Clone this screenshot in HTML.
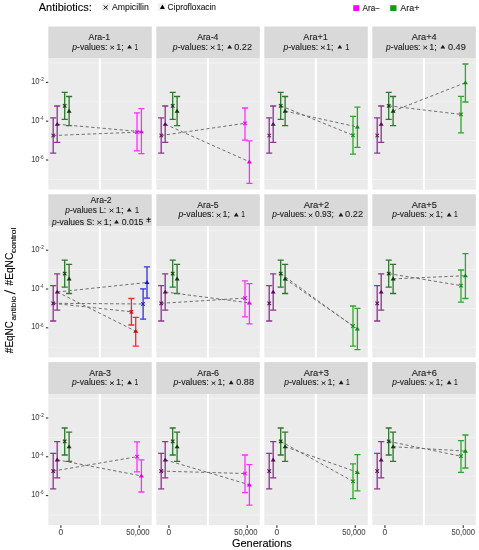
<!DOCTYPE html><html><head><meta charset="utf-8"><style>html,body{margin:0;padding:0;background:#fff;overflow:hidden;}svg{display:block;will-change:transform}</style></head><body>
<svg width="479" height="550" viewBox="0 0 479 550" font-family='"Liberation Sans", sans-serif'>
<rect width="479" height="550" fill="#fff"/>
<text x="38.78" y="11.30" font-size="10.3" fill="#000" stroke="#000" stroke-width="0.1" textLength="53.02" lengthAdjust="spacingAndGlyphs">Antibiotics:</text>
<rect x="101.6" y="3" width="8.4" height="8.1" fill="#f2f2f2"/>
<path d="M103.7 5.5L107.7 9.3M103.7 9.3L107.7 5.5" stroke="#000" stroke-width="1.0"/>
<text x="112.08" y="9.70" font-size="8.7" fill="#1a1a1a" stroke="#1a1a1a" stroke-width="0.1" textLength="36.68" lengthAdjust="spacingAndGlyphs">Ampicillin</text>
<rect x="157.6" y="3" width="8.6" height="8.1" fill="#f2f2f2"/>
<path d="M162.4 4.5L164.9 8.9L159.9 8.9Z" fill="#000"/>
<text x="167.57" y="9.70" font-size="8.7" fill="#1a1a1a" stroke="#1a1a1a" stroke-width="0.1" textLength="48.47" lengthAdjust="spacingAndGlyphs">Ciprofloxacin</text>
<rect x="353.2" y="5.2" width="6" height="5.8" fill="#ff00ff"/>
<text x="362.48" y="11.00" font-size="8.2" fill="#1a1a1a" stroke="#1a1a1a" stroke-width="0.1" textLength="17.52" lengthAdjust="spacingAndGlyphs">Ara−</text>
<rect x="390.2" y="5.2" width="6.3" height="5.8" fill="#149a14"/>
<text x="400.38" y="11.00" font-size="8.2" fill="#1a1a1a" stroke="#1a1a1a" stroke-width="0.1" textLength="19.26" lengthAdjust="spacingAndGlyphs">Ara+</text>
<g transform="translate(13.1 0) rotate(-90)">
<text x="-353.14" y="0.00" font-size="10.5" fill="#000" stroke="#000" stroke-width="0.1" textLength="32.02" lengthAdjust="spacingAndGlyphs">#EqNC</text>
<text x="-320.55" y="2.90" font-size="7.3" fill="#000" stroke="#000" stroke-width="0.1" textLength="24.40" lengthAdjust="spacingAndGlyphs">antibio</text>
<text x="-285.44" y="0.00" font-size="10.5" fill="#000" stroke="#000" stroke-width="0.1" textLength="32.73" lengthAdjust="spacingAndGlyphs">#EqNC</text>
<text x="-253.06" y="2.90" font-size="7.3" fill="#000" stroke="#000" stroke-width="0.1" textLength="25.53" lengthAdjust="spacingAndGlyphs">control</text>
</g>
<path d="M15.4 293.9L4.3 290.2" stroke="#000" stroke-width="1.05"/>
<text x="231.95" y="546.90" font-size="10.2" fill="#000" stroke="#000" stroke-width="0.1" textLength="59.85" lengthAdjust="spacingAndGlyphs">Generations</text>
<path d="M45.9 82.40H48.6" stroke="#333" stroke-width="1.1"/>
<text x="31.18" y="84.00" font-size="8.4" fill="#4d4d4d" stroke="#4d4d4d" stroke-width="0.1" textLength="8.37" lengthAdjust="spacingAndGlyphs">10</text>
<text x="39.59" y="81.20" font-size="5.4" fill="#5a5a5a" stroke="#5a5a5a" stroke-width="0.1" textLength="4.14" lengthAdjust="spacingAndGlyphs">-2</text>
<path d="M45.9 121.20H48.6" stroke="#333" stroke-width="1.1"/>
<text x="31.18" y="122.80" font-size="8.4" fill="#4d4d4d" stroke="#4d4d4d" stroke-width="0.1" textLength="8.37" lengthAdjust="spacingAndGlyphs">10</text>
<text x="39.60" y="120.00" font-size="5.4" fill="#5a5a5a" stroke="#5a5a5a" stroke-width="0.1" textLength="4.03" lengthAdjust="spacingAndGlyphs">-4</text>
<path d="M45.9 160.00H48.6" stroke="#333" stroke-width="1.1"/>
<text x="31.18" y="161.60" font-size="8.4" fill="#4d4d4d" stroke="#4d4d4d" stroke-width="0.1" textLength="8.37" lengthAdjust="spacingAndGlyphs">10</text>
<text x="39.59" y="158.80" font-size="5.4" fill="#5a5a5a" stroke="#5a5a5a" stroke-width="0.1" textLength="4.11" lengthAdjust="spacingAndGlyphs">-6</text>
<rect x="48.30" y="26.50" width="103.5" height="31.9" fill="#d9d9d9"/>
<rect x="48.30" y="58.40" width="103.5" height="131.2" fill="#ebebeb"/>
<path d="M48.30 63.00H151.80" stroke="#f4f4f4" stroke-width="0.9"/>
<path d="M48.30 101.80H151.80" stroke="#f4f4f4" stroke-width="0.9"/>
<path d="M48.30 140.60H151.80" stroke="#f4f4f4" stroke-width="0.9"/>
<path d="M48.30 179.40H151.80" stroke="#f4f4f4" stroke-width="0.9"/>
<path d="M99.90 58.40V189.60" stroke="#ffffff" stroke-width="2"/>
<text x="88.58" y="40.20" font-size="8.7" fill="#1a1a1a" stroke="#1a1a1a" stroke-width="0.1" textLength="21.45" lengthAdjust="spacingAndGlyphs">Ara-1</text>
<text x="72.22" y="49.50" font-size="8.7" fill="#1a1a1a" stroke="#1a1a1a" stroke-width="0.1" textLength="35.18" lengthAdjust="spacingAndGlyphs"><tspan font-style="italic">p</tspan>-values:</text>
<path d="M110.30 45.90L114.00 49.20M110.30 49.20L114.00 45.90" stroke="#1a1a1a" stroke-width="0.95"/>
<text x="116.32" y="49.50" font-size="8.7" fill="#1a1a1a" stroke="#1a1a1a" stroke-width="0.1" textLength="7.49" lengthAdjust="spacingAndGlyphs">1;</text>
<path d="M127.15 48.60H131.95L129.55 44.70Z" fill="#1a1a1a"/>
<text x="134.42" y="49.50" font-size="8.7" fill="#1a1a1a" stroke="#1a1a1a" stroke-width="0.1" textLength="3.48" lengthAdjust="spacingAndGlyphs">1</text>
<path d="M50.15 117.80H56.25M53.20 117.80V153.20M50.15 153.20H56.25" stroke="#8e338e" stroke-width="1.3" fill="none"/>
<path d="M54.15 106.00H60.25M57.20 106.00V142.30M54.15 142.30H60.25" stroke="#8e338e" stroke-width="1.3" fill="none"/>
<path d="M61.65 92.40H67.75M64.70 92.40V119.40M61.65 119.40H67.75" stroke="#2f742f" stroke-width="1.3" fill="none"/>
<path d="M66.05 96.50H72.15M69.10 96.50V125.70M66.05 125.70H72.15" stroke="#2f742f" stroke-width="1.3" fill="none"/>
<path d="M133.95 112.80H140.05M137.00 112.80V150.80M133.95 150.80H140.05" stroke="#ff2eff" stroke-width="1.3" fill="none"/>
<path d="M138.35 108.60H144.45M141.40 108.60V153.70M138.35 153.70H144.45" stroke="#ff2eff" stroke-width="1.3" fill="none"/>
<path d="M53.20 135.50L137.00 132.20" stroke="#6e6e6e" stroke-width="1" stroke-dasharray="3.2 2.5" fill="none"/>
<path d="M57.20 124.20L141.40 131.70" stroke="#6e6e6e" stroke-width="1" stroke-dasharray="3.2 2.5" fill="none"/>
<path d="M51.45 133.75L54.95 137.25M51.45 137.25L54.95 133.75" stroke="#5a0a5a" stroke-width="1.05" fill="none"/>
<path d="M57.20 121.90L59.70 125.80L54.70 125.80Z" fill="#5a0a5a"/>
<path d="M62.95 104.05L66.45 107.55M62.95 107.55L66.45 104.05" stroke="#0b3d0b" stroke-width="1.05" fill="none"/>
<path d="M69.10 108.80L71.60 112.70L66.60 112.70Z" fill="#0b3d0b"/>
<path d="M135.25 130.45L138.75 133.95M135.25 133.95L138.75 130.45" stroke="#e600e6" stroke-width="1.05" fill="none"/>
<path d="M141.40 129.40L143.90 133.30L138.90 133.30Z" fill="#e600e6"/>
<rect x="156.30" y="26.50" width="103.5" height="31.9" fill="#d9d9d9"/>
<rect x="156.30" y="58.40" width="103.5" height="131.2" fill="#ebebeb"/>
<path d="M156.30 63.00H259.80" stroke="#f4f4f4" stroke-width="0.9"/>
<path d="M156.30 101.80H259.80" stroke="#f4f4f4" stroke-width="0.9"/>
<path d="M156.30 140.60H259.80" stroke="#f4f4f4" stroke-width="0.9"/>
<path d="M156.30 179.40H259.80" stroke="#f4f4f4" stroke-width="0.9"/>
<path d="M207.90 58.40V189.60" stroke="#ffffff" stroke-width="2"/>
<text x="197.18" y="40.20" font-size="8.7" fill="#1a1a1a" stroke="#1a1a1a" stroke-width="0.1" textLength="21.27" lengthAdjust="spacingAndGlyphs">Ara-4</text>
<text x="172.82" y="49.50" font-size="8.7" fill="#1a1a1a" stroke="#1a1a1a" stroke-width="0.1" textLength="35.18" lengthAdjust="spacingAndGlyphs"><tspan font-style="italic">p</tspan>-values:</text>
<path d="M210.70 45.90L214.60 49.20M210.70 49.20L214.60 45.90" stroke="#1a1a1a" stroke-width="0.95"/>
<text x="216.78" y="49.50" font-size="8.7" fill="#1a1a1a" stroke="#1a1a1a" stroke-width="0.1" textLength="6.74" lengthAdjust="spacingAndGlyphs">1;</text>
<path d="M227.25 48.60H232.05L229.65 44.70Z" fill="#1a1a1a"/>
<text x="234.24" y="49.50" font-size="8.7" fill="#1a1a1a" stroke="#1a1a1a" stroke-width="0.1" textLength="17.82" lengthAdjust="spacingAndGlyphs">0.22</text>
<path d="M158.15 117.80H164.25M161.20 117.80V153.20M158.15 153.20H164.25" stroke="#8e338e" stroke-width="1.3" fill="none"/>
<path d="M162.15 106.00H168.25M165.20 106.00V142.30M162.15 142.30H168.25" stroke="#8e338e" stroke-width="1.3" fill="none"/>
<path d="M169.65 92.40H175.75M172.70 92.40V119.40M169.65 119.40H175.75" stroke="#2f742f" stroke-width="1.3" fill="none"/>
<path d="M174.05 96.50H180.15M177.10 96.50V125.70M174.05 125.70H180.15" stroke="#2f742f" stroke-width="1.3" fill="none"/>
<path d="M241.95 108.00H248.05M245.00 108.00V140.20M241.95 140.20H248.05" stroke="#ff2eff" stroke-width="1.3" fill="none"/>
<path d="M246.35 140.90H252.45M249.40 140.90V183.40M246.35 183.40H252.45" stroke="#ff2eff" stroke-width="1.3" fill="none"/>
<path d="M161.20 135.50L245.00 123.30" stroke="#6e6e6e" stroke-width="1" stroke-dasharray="3.2 2.5" fill="none"/>
<path d="M165.20 124.20L249.40 161.80" stroke="#6e6e6e" stroke-width="1" stroke-dasharray="3.2 2.5" fill="none"/>
<path d="M159.45 133.75L162.95 137.25M159.45 137.25L162.95 133.75" stroke="#5a0a5a" stroke-width="1.05" fill="none"/>
<path d="M165.20 121.90L167.70 125.80L162.70 125.80Z" fill="#5a0a5a"/>
<path d="M170.95 104.05L174.45 107.55M170.95 107.55L174.45 104.05" stroke="#0b3d0b" stroke-width="1.05" fill="none"/>
<path d="M177.10 108.80L179.60 112.70L174.60 112.70Z" fill="#0b3d0b"/>
<path d="M243.25 121.55L246.75 125.05M243.25 125.05L246.75 121.55" stroke="#e600e6" stroke-width="1.05" fill="none"/>
<path d="M249.40 159.50L251.90 163.40L246.90 163.40Z" fill="#e600e6"/>
<rect x="264.30" y="26.50" width="103.5" height="31.9" fill="#d9d9d9"/>
<rect x="264.30" y="58.40" width="103.5" height="131.2" fill="#ebebeb"/>
<path d="M264.30 63.00H367.80" stroke="#f4f4f4" stroke-width="0.9"/>
<path d="M264.30 101.80H367.80" stroke="#f4f4f4" stroke-width="0.9"/>
<path d="M264.30 140.60H367.80" stroke="#f4f4f4" stroke-width="0.9"/>
<path d="M264.30 179.40H367.80" stroke="#f4f4f4" stroke-width="0.9"/>
<path d="M315.90 58.40V189.60" stroke="#ffffff" stroke-width="2"/>
<text x="303.38" y="40.20" font-size="8.7" fill="#1a1a1a" stroke="#1a1a1a" stroke-width="0.1" textLength="24.46" lengthAdjust="spacingAndGlyphs">Ara+1</text>
<text x="283.51" y="49.50" font-size="8.7" fill="#1a1a1a" stroke="#1a1a1a" stroke-width="0.1" textLength="34.57" lengthAdjust="spacingAndGlyphs"><tspan font-style="italic">p</tspan>-values:</text>
<path d="M320.90 45.90L324.90 49.20M320.90 49.20L324.90 45.90" stroke="#1a1a1a" stroke-width="0.95"/>
<text x="326.36" y="49.50" font-size="8.7" fill="#1a1a1a" stroke="#1a1a1a" stroke-width="0.1" textLength="6.99" lengthAdjust="spacingAndGlyphs">1;</text>
<path d="M337.55 48.60H342.15L339.85 44.70Z" fill="#1a1a1a"/>
<text x="345.22" y="49.50" font-size="8.7" fill="#1a1a1a" stroke="#1a1a1a" stroke-width="0.1" textLength="4.26" lengthAdjust="spacingAndGlyphs">1</text>
<path d="M266.15 117.80H272.25M269.20 117.80V153.20M266.15 153.20H272.25" stroke="#8e338e" stroke-width="1.3" fill="none"/>
<path d="M270.15 106.00H276.25M273.20 106.00V142.30M270.15 142.30H276.25" stroke="#8e338e" stroke-width="1.3" fill="none"/>
<path d="M277.65 92.40H283.75M280.70 92.40V119.40M277.65 119.40H283.75" stroke="#2f742f" stroke-width="1.3" fill="none"/>
<path d="M282.05 96.50H288.15M285.10 96.50V125.70M282.05 125.70H288.15" stroke="#2f742f" stroke-width="1.3" fill="none"/>
<path d="M349.95 116.40H356.05M353.00 116.40V154.10M349.95 154.10H356.05" stroke="#2ba82b" stroke-width="1.3" fill="none"/>
<path d="M354.35 107.20H360.45M357.40 107.20V147.40M354.35 147.40H360.45" stroke="#2ba82b" stroke-width="1.3" fill="none"/>
<path d="M280.70 105.80L353.00 135.30" stroke="#6e6e6e" stroke-width="1" stroke-dasharray="3.2 2.5" fill="none"/>
<path d="M285.10 111.10L357.40 127.00" stroke="#6e6e6e" stroke-width="1" stroke-dasharray="3.2 2.5" fill="none"/>
<path d="M267.45 133.75L270.95 137.25M267.45 137.25L270.95 133.75" stroke="#5a0a5a" stroke-width="1.05" fill="none"/>
<path d="M273.20 121.90L275.70 125.80L270.70 125.80Z" fill="#5a0a5a"/>
<path d="M278.95 104.05L282.45 107.55M278.95 107.55L282.45 104.05" stroke="#0b3d0b" stroke-width="1.05" fill="none"/>
<path d="M285.10 108.80L287.60 112.70L282.60 112.70Z" fill="#0b3d0b"/>
<path d="M351.25 133.55L354.75 137.05M351.25 137.05L354.75 133.55" stroke="#0a900a" stroke-width="1.05" fill="none"/>
<path d="M357.40 124.70L359.90 128.60L354.90 128.60Z" fill="#0a900a"/>
<rect x="372.30" y="26.50" width="103.5" height="31.9" fill="#d9d9d9"/>
<rect x="372.30" y="58.40" width="103.5" height="131.2" fill="#ebebeb"/>
<path d="M372.30 63.00H475.80" stroke="#f4f4f4" stroke-width="0.9"/>
<path d="M372.30 101.80H475.80" stroke="#f4f4f4" stroke-width="0.9"/>
<path d="M372.30 140.60H475.80" stroke="#f4f4f4" stroke-width="0.9"/>
<path d="M372.30 179.40H475.80" stroke="#f4f4f4" stroke-width="0.9"/>
<path d="M423.90 58.40V189.60" stroke="#ffffff" stroke-width="2"/>
<text x="411.88" y="40.20" font-size="8.7" fill="#1a1a1a" stroke="#1a1a1a" stroke-width="0.1" textLength="24.89" lengthAdjust="spacingAndGlyphs">Ara+4</text>
<text x="386.11" y="49.50" font-size="8.7" fill="#1a1a1a" stroke="#1a1a1a" stroke-width="0.1" textLength="34.36" lengthAdjust="spacingAndGlyphs"><tspan font-style="italic">p</tspan>-values:</text>
<path d="M423.30 45.90L427.10 49.20M423.30 49.20L427.10 45.90" stroke="#1a1a1a" stroke-width="0.95"/>
<text x="429.22" y="49.50" font-size="8.7" fill="#1a1a1a" stroke="#1a1a1a" stroke-width="0.1" textLength="7.49" lengthAdjust="spacingAndGlyphs">1;</text>
<path d="M440.45 48.60H445.25L442.85 44.70Z" fill="#1a1a1a"/>
<text x="447.94" y="49.50" font-size="8.7" fill="#1a1a1a" stroke="#1a1a1a" stroke-width="0.1" textLength="17.79" lengthAdjust="spacingAndGlyphs">0.49</text>
<path d="M374.15 117.80H380.25M377.20 117.80V153.20M374.15 153.20H380.25" stroke="#8e338e" stroke-width="1.3" fill="none"/>
<path d="M378.15 106.00H384.25M381.20 106.00V142.30M378.15 142.30H384.25" stroke="#8e338e" stroke-width="1.3" fill="none"/>
<path d="M385.65 92.40H391.75M388.70 92.40V119.40M385.65 119.40H391.75" stroke="#2f742f" stroke-width="1.3" fill="none"/>
<path d="M390.05 96.50H396.15M393.10 96.50V125.70M390.05 125.70H396.15" stroke="#2f742f" stroke-width="1.3" fill="none"/>
<path d="M457.95 96.40H464.05M461.00 96.40V132.90M457.95 132.90H464.05" stroke="#2ba82b" stroke-width="1.3" fill="none"/>
<path d="M462.35 64.00H468.45M465.40 64.00V102.00M462.35 102.00H468.45" stroke="#2ba82b" stroke-width="1.3" fill="none"/>
<path d="M388.70 105.80L461.00 114.40" stroke="#6e6e6e" stroke-width="1" stroke-dasharray="3.2 2.5" fill="none"/>
<path d="M393.10 111.10L465.40 82.70" stroke="#6e6e6e" stroke-width="1" stroke-dasharray="3.2 2.5" fill="none"/>
<path d="M375.45 133.75L378.95 137.25M375.45 137.25L378.95 133.75" stroke="#5a0a5a" stroke-width="1.05" fill="none"/>
<path d="M381.20 121.90L383.70 125.80L378.70 125.80Z" fill="#5a0a5a"/>
<path d="M386.95 104.05L390.45 107.55M386.95 107.55L390.45 104.05" stroke="#0b3d0b" stroke-width="1.05" fill="none"/>
<path d="M393.10 108.80L395.60 112.70L390.60 112.70Z" fill="#0b3d0b"/>
<path d="M459.25 112.65L462.75 116.15M459.25 116.15L462.75 112.65" stroke="#0a900a" stroke-width="1.05" fill="none"/>
<path d="M465.40 80.40L467.90 84.30L462.90 84.30Z" fill="#0a900a"/>
<path d="M45.9 250.20H48.6" stroke="#333" stroke-width="1.1"/>
<text x="31.18" y="251.80" font-size="8.4" fill="#4d4d4d" stroke="#4d4d4d" stroke-width="0.1" textLength="8.37" lengthAdjust="spacingAndGlyphs">10</text>
<text x="39.59" y="249.00" font-size="5.4" fill="#5a5a5a" stroke="#5a5a5a" stroke-width="0.1" textLength="4.14" lengthAdjust="spacingAndGlyphs">-2</text>
<path d="M45.9 289.00H48.6" stroke="#333" stroke-width="1.1"/>
<text x="31.18" y="290.60" font-size="8.4" fill="#4d4d4d" stroke="#4d4d4d" stroke-width="0.1" textLength="8.37" lengthAdjust="spacingAndGlyphs">10</text>
<text x="39.60" y="287.80" font-size="5.4" fill="#5a5a5a" stroke="#5a5a5a" stroke-width="0.1" textLength="4.03" lengthAdjust="spacingAndGlyphs">-4</text>
<path d="M45.9 327.80H48.6" stroke="#333" stroke-width="1.1"/>
<text x="31.18" y="329.40" font-size="8.4" fill="#4d4d4d" stroke="#4d4d4d" stroke-width="0.1" textLength="8.37" lengthAdjust="spacingAndGlyphs">10</text>
<text x="39.59" y="326.60" font-size="5.4" fill="#5a5a5a" stroke="#5a5a5a" stroke-width="0.1" textLength="4.11" lengthAdjust="spacingAndGlyphs">-6</text>
<rect x="48.30" y="194.30" width="103.5" height="31.9" fill="#d9d9d9"/>
<rect x="48.30" y="226.20" width="103.5" height="131.2" fill="#ebebeb"/>
<path d="M48.30 230.80H151.80" stroke="#f4f4f4" stroke-width="0.9"/>
<path d="M48.30 269.60H151.80" stroke="#f4f4f4" stroke-width="0.9"/>
<path d="M48.30 308.40H151.80" stroke="#f4f4f4" stroke-width="0.9"/>
<path d="M48.30 347.20H151.80" stroke="#f4f4f4" stroke-width="0.9"/>
<path d="M99.90 226.20V357.40" stroke="#ffffff" stroke-width="2"/>
<text x="90.58" y="202.80" font-size="8.7" fill="#1a1a1a" stroke="#1a1a1a" stroke-width="0.1" textLength="21.05" lengthAdjust="spacingAndGlyphs">Ara-2</text>
<text x="65.21" y="212.50" font-size="8.7" fill="#1a1a1a" stroke="#1a1a1a" stroke-width="0.1" textLength="40.96" lengthAdjust="spacingAndGlyphs"><tspan font-style="italic">p</tspan>-values L:</text>
<path d="M109.60 208.90L113.40 212.20M109.60 212.20L113.40 208.90" stroke="#1a1a1a" stroke-width="0.95"/>
<text x="115.55" y="212.50" font-size="8.7" fill="#1a1a1a" stroke="#1a1a1a" stroke-width="0.1" textLength="8.24" lengthAdjust="spacingAndGlyphs">1;</text>
<path d="M126.85 211.60H131.55L129.20 207.70Z" fill="#1a1a1a"/>
<text x="134.95" y="212.50" font-size="8.7" fill="#1a1a1a" stroke="#1a1a1a" stroke-width="0.1" textLength="4.00" lengthAdjust="spacingAndGlyphs">1</text>
<text x="51.91" y="224.50" font-size="8.7" fill="#1a1a1a" stroke="#1a1a1a" stroke-width="0.1" textLength="42.57" lengthAdjust="spacingAndGlyphs"><tspan font-style="italic">p</tspan>-values S:</text>
<path d="M97.30 220.90L101.40 224.20M97.30 224.20L101.40 220.90" stroke="#1a1a1a" stroke-width="0.95"/>
<text x="103.57" y="224.50" font-size="8.7" fill="#1a1a1a" stroke="#1a1a1a" stroke-width="0.1" textLength="7.99" lengthAdjust="spacingAndGlyphs">1;</text>
<path d="M114.15 223.60H118.95L116.55 219.70Z" fill="#1a1a1a"/>
<text x="121.66" y="224.50" font-size="8.7" fill="#1a1a1a" stroke="#1a1a1a" stroke-width="0.1" textLength="21.70" lengthAdjust="spacingAndGlyphs">0.015</text>
<path d="M148.60 217.60L148.60 222.60M146.43 218.85L150.77 221.35M146.43 221.35L150.77 218.85" stroke="#1a1a1a" stroke-width="1.05"/>
<path d="M50.15 285.60H56.25M53.20 285.60V321.00M50.15 321.00H56.25" stroke="#8e338e" stroke-width="1.3" fill="none"/>
<path d="M54.15 273.80H60.25M57.20 273.80V310.10M54.15 310.10H60.25" stroke="#8e338e" stroke-width="1.3" fill="none"/>
<path d="M61.65 260.20H67.75M64.70 260.20V287.20M61.65 287.20H67.75" stroke="#2f742f" stroke-width="1.3" fill="none"/>
<path d="M66.05 264.30H72.15M69.10 264.30V293.50M66.05 293.50H72.15" stroke="#2f742f" stroke-width="1.3" fill="none"/>
<path d="M128.35 298.50H134.45M131.40 298.50V325.00M128.35 325.00H134.45" stroke="#f02b2b" stroke-width="1.3" fill="none"/>
<path d="M132.65 317.30H138.75M135.70 317.30V346.10M132.65 346.10H138.75" stroke="#f02b2b" stroke-width="1.3" fill="none"/>
<path d="M140.05 288.90H146.15M143.10 288.90V319.20M140.05 319.20H146.15" stroke="#3030e6" stroke-width="1.3" fill="none"/>
<path d="M143.95 266.80H150.05M147.00 266.80V298.10M143.95 298.10H150.05" stroke="#3030e6" stroke-width="1.3" fill="none"/>
<path d="M53.20 303.30L131.40 311.80" stroke="#6e6e6e" stroke-width="1" stroke-dasharray="3.2 2.5" fill="none"/>
<path d="M57.20 292.00L135.70 331.20" stroke="#6e6e6e" stroke-width="1" stroke-dasharray="3.2 2.5" fill="none"/>
<path d="M53.20 303.30L143.10 304.00" stroke="#6e6e6e" stroke-width="1" stroke-dasharray="3.2 2.5" fill="none"/>
<path d="M57.20 292.00L147.00 282.50" stroke="#6e6e6e" stroke-width="1" stroke-dasharray="3.2 2.5" fill="none"/>
<path d="M51.45 301.55L54.95 305.05M51.45 305.05L54.95 301.55" stroke="#5a0a5a" stroke-width="1.05" fill="none"/>
<path d="M57.20 289.70L59.70 293.60L54.70 293.60Z" fill="#5a0a5a"/>
<path d="M62.95 271.85L66.45 275.35M62.95 275.35L66.45 271.85" stroke="#0b3d0b" stroke-width="1.05" fill="none"/>
<path d="M69.10 276.60L71.60 280.50L66.60 280.50Z" fill="#0b3d0b"/>
<path d="M129.65 310.05L133.15 313.55M129.65 313.55L133.15 310.05" stroke="#dd0000" stroke-width="1.05" fill="none"/>
<path d="M135.70 328.90L138.20 332.80L133.20 332.80Z" fill="#dd0000"/>
<path d="M141.35 302.25L144.85 305.75M141.35 305.75L144.85 302.25" stroke="#1010c8" stroke-width="1.05" fill="none"/>
<path d="M147.00 280.20L149.50 284.10L144.50 284.10Z" fill="#1010c8"/>
<rect x="156.30" y="194.30" width="103.5" height="31.9" fill="#d9d9d9"/>
<rect x="156.30" y="226.20" width="103.5" height="131.2" fill="#ebebeb"/>
<path d="M156.30 230.80H259.80" stroke="#f4f4f4" stroke-width="0.9"/>
<path d="M156.30 269.60H259.80" stroke="#f4f4f4" stroke-width="0.9"/>
<path d="M156.30 308.40H259.80" stroke="#f4f4f4" stroke-width="0.9"/>
<path d="M156.30 347.20H259.80" stroke="#f4f4f4" stroke-width="0.9"/>
<path d="M207.90 226.20V357.40" stroke="#ffffff" stroke-width="2"/>
<text x="197.28" y="208.00" font-size="8.7" fill="#1a1a1a" stroke="#1a1a1a" stroke-width="0.1" textLength="21.38" lengthAdjust="spacingAndGlyphs">Ara-5</text>
<text x="178.52" y="217.30" font-size="8.7" fill="#1a1a1a" stroke="#1a1a1a" stroke-width="0.1" textLength="35.38" lengthAdjust="spacingAndGlyphs"><tspan font-style="italic">p</tspan>-values:</text>
<path d="M216.70 213.70L220.50 217.00M216.70 217.00L220.50 213.70" stroke="#1a1a1a" stroke-width="0.95"/>
<text x="222.62" y="217.30" font-size="8.7" fill="#1a1a1a" stroke="#1a1a1a" stroke-width="0.1" textLength="7.49" lengthAdjust="spacingAndGlyphs">1;</text>
<path d="M233.85 216.40H238.65L236.25 212.50Z" fill="#1a1a1a"/>
<text x="241.19" y="217.30" font-size="8.7" fill="#1a1a1a" stroke="#1a1a1a" stroke-width="0.1" textLength="3.74" lengthAdjust="spacingAndGlyphs">1</text>
<path d="M158.15 285.60H164.25M161.20 285.60V321.00M158.15 321.00H164.25" stroke="#8e338e" stroke-width="1.3" fill="none"/>
<path d="M162.15 273.80H168.25M165.20 273.80V310.10M162.15 310.10H168.25" stroke="#8e338e" stroke-width="1.3" fill="none"/>
<path d="M169.65 260.20H175.75M172.70 260.20V287.20M169.65 287.20H175.75" stroke="#2f742f" stroke-width="1.3" fill="none"/>
<path d="M174.05 264.30H180.15M177.10 264.30V293.50M174.05 293.50H180.15" stroke="#2f742f" stroke-width="1.3" fill="none"/>
<path d="M241.95 280.80H248.05M245.00 280.80V316.80M241.95 316.80H248.05" stroke="#ff2eff" stroke-width="1.3" fill="none"/>
<path d="M246.35 283.60H252.45M249.40 283.60V323.80M246.35 323.80H252.45" stroke="#ff2eff" stroke-width="1.3" fill="none"/>
<path d="M161.20 303.30L245.00 298.10" stroke="#6e6e6e" stroke-width="1" stroke-dasharray="3.2 2.5" fill="none"/>
<path d="M165.20 292.00L249.40 302.90" stroke="#6e6e6e" stroke-width="1" stroke-dasharray="3.2 2.5" fill="none"/>
<path d="M159.45 301.55L162.95 305.05M159.45 305.05L162.95 301.55" stroke="#5a0a5a" stroke-width="1.05" fill="none"/>
<path d="M165.20 289.70L167.70 293.60L162.70 293.60Z" fill="#5a0a5a"/>
<path d="M170.95 271.85L174.45 275.35M170.95 275.35L174.45 271.85" stroke="#0b3d0b" stroke-width="1.05" fill="none"/>
<path d="M177.10 276.60L179.60 280.50L174.60 280.50Z" fill="#0b3d0b"/>
<path d="M243.25 296.35L246.75 299.85M243.25 299.85L246.75 296.35" stroke="#e600e6" stroke-width="1.05" fill="none"/>
<path d="M249.40 300.60L251.90 304.50L246.90 304.50Z" fill="#e600e6"/>
<rect x="264.30" y="194.30" width="103.5" height="31.9" fill="#d9d9d9"/>
<rect x="264.30" y="226.20" width="103.5" height="131.2" fill="#ebebeb"/>
<path d="M264.30 230.80H367.80" stroke="#f4f4f4" stroke-width="0.9"/>
<path d="M264.30 269.60H367.80" stroke="#f4f4f4" stroke-width="0.9"/>
<path d="M264.30 308.40H367.80" stroke="#f4f4f4" stroke-width="0.9"/>
<path d="M264.30 347.20H367.80" stroke="#f4f4f4" stroke-width="0.9"/>
<path d="M315.90 226.20V357.40" stroke="#ffffff" stroke-width="2"/>
<text x="303.68" y="208.00" font-size="8.7" fill="#1a1a1a" stroke="#1a1a1a" stroke-width="0.1" textLength="25.49" lengthAdjust="spacingAndGlyphs">Ara+2</text>
<text x="272.21" y="217.30" font-size="8.7" fill="#1a1a1a" stroke="#1a1a1a" stroke-width="0.1" textLength="34.16" lengthAdjust="spacingAndGlyphs"><tspan font-style="italic">p</tspan>-values:</text>
<path d="M308.70 213.70L312.40 217.00M308.70 217.00L312.40 213.70" stroke="#1a1a1a" stroke-width="0.95"/>
<text x="315.07" y="217.30" font-size="8.7" fill="#1a1a1a" stroke="#1a1a1a" stroke-width="0.1" textLength="18.68" lengthAdjust="spacingAndGlyphs">0.93;</text>
<path d="M338.55 216.40H343.25L340.90 212.50Z" fill="#1a1a1a"/>
<text x="345.14" y="217.30" font-size="8.7" fill="#1a1a1a" stroke="#1a1a1a" stroke-width="0.1" textLength="18.03" lengthAdjust="spacingAndGlyphs">0.22</text>
<path d="M266.15 285.60H272.25M269.20 285.60V321.00M266.15 321.00H272.25" stroke="#8e338e" stroke-width="1.3" fill="none"/>
<path d="M270.15 273.80H276.25M273.20 273.80V310.10M270.15 310.10H276.25" stroke="#8e338e" stroke-width="1.3" fill="none"/>
<path d="M277.65 260.20H283.75M280.70 260.20V287.20M277.65 287.20H283.75" stroke="#2f742f" stroke-width="1.3" fill="none"/>
<path d="M282.05 264.30H288.15M285.10 264.30V293.50M282.05 293.50H288.15" stroke="#2f742f" stroke-width="1.3" fill="none"/>
<path d="M349.95 306.00H356.05M353.00 306.00V346.10M349.95 346.10H356.05" stroke="#2ba82b" stroke-width="1.3" fill="none"/>
<path d="M354.35 308.40H360.45M357.40 308.40V349.70M354.35 349.70H360.45" stroke="#2ba82b" stroke-width="1.3" fill="none"/>
<path d="M280.70 273.60L353.00 326.20" stroke="#6e6e6e" stroke-width="1" stroke-dasharray="3.2 2.5" fill="none"/>
<path d="M285.10 278.90L357.40 328.80" stroke="#6e6e6e" stroke-width="1" stroke-dasharray="3.2 2.5" fill="none"/>
<path d="M267.45 301.55L270.95 305.05M267.45 305.05L270.95 301.55" stroke="#5a0a5a" stroke-width="1.05" fill="none"/>
<path d="M273.20 289.70L275.70 293.60L270.70 293.60Z" fill="#5a0a5a"/>
<path d="M278.95 271.85L282.45 275.35M278.95 275.35L282.45 271.85" stroke="#0b3d0b" stroke-width="1.05" fill="none"/>
<path d="M285.10 276.60L287.60 280.50L282.60 280.50Z" fill="#0b3d0b"/>
<path d="M351.25 324.45L354.75 327.95M351.25 327.95L354.75 324.45" stroke="#0a900a" stroke-width="1.05" fill="none"/>
<path d="M357.40 326.50L359.90 330.40L354.90 330.40Z" fill="#0a900a"/>
<rect x="372.30" y="194.30" width="103.5" height="31.9" fill="#d9d9d9"/>
<rect x="372.30" y="226.20" width="103.5" height="131.2" fill="#ebebeb"/>
<path d="M372.30 230.80H475.80" stroke="#f4f4f4" stroke-width="0.9"/>
<path d="M372.30 269.60H475.80" stroke="#f4f4f4" stroke-width="0.9"/>
<path d="M372.30 308.40H475.80" stroke="#f4f4f4" stroke-width="0.9"/>
<path d="M372.30 347.20H475.80" stroke="#f4f4f4" stroke-width="0.9"/>
<path d="M423.90 226.20V357.40" stroke="#ffffff" stroke-width="2"/>
<text x="411.68" y="208.00" font-size="8.7" fill="#1a1a1a" stroke="#1a1a1a" stroke-width="0.1" textLength="25.21" lengthAdjust="spacingAndGlyphs">Ara+5</text>
<text x="392.21" y="217.30" font-size="8.7" fill="#1a1a1a" stroke="#1a1a1a" stroke-width="0.1" textLength="34.57" lengthAdjust="spacingAndGlyphs"><tspan font-style="italic">p</tspan>-values:</text>
<path d="M429.60 213.70L433.40 217.00M429.60 217.00L433.40 213.70" stroke="#1a1a1a" stroke-width="0.95"/>
<text x="435.52" y="217.30" font-size="8.7" fill="#1a1a1a" stroke="#1a1a1a" stroke-width="0.1" textLength="7.49" lengthAdjust="spacingAndGlyphs">1;</text>
<path d="M446.75 216.40H451.55L449.15 212.50Z" fill="#1a1a1a"/>
<text x="454.09" y="217.30" font-size="8.7" fill="#1a1a1a" stroke="#1a1a1a" stroke-width="0.1" textLength="3.74" lengthAdjust="spacingAndGlyphs">1</text>
<path d="M374.15 285.60H380.25M377.20 285.60V321.00M374.15 321.00H380.25" stroke="#8e338e" stroke-width="1.3" fill="none"/>
<path d="M378.15 273.80H384.25M381.20 273.80V310.10M378.15 310.10H384.25" stroke="#8e338e" stroke-width="1.3" fill="none"/>
<path d="M385.65 260.20H391.75M388.70 260.20V287.20M385.65 287.20H391.75" stroke="#2f742f" stroke-width="1.3" fill="none"/>
<path d="M390.05 264.30H396.15M393.10 264.30V293.50M390.05 293.50H396.15" stroke="#2f742f" stroke-width="1.3" fill="none"/>
<path d="M457.95 270.00H464.05M461.00 270.00V302.10M457.95 302.10H464.05" stroke="#2ba82b" stroke-width="1.3" fill="none"/>
<path d="M462.35 253.60H468.45M465.40 253.60V298.50M462.35 298.50H468.45" stroke="#2ba82b" stroke-width="1.3" fill="none"/>
<path d="M388.70 273.60L461.00 285.60" stroke="#6e6e6e" stroke-width="1" stroke-dasharray="3.2 2.5" fill="none"/>
<path d="M393.10 278.90L465.40 275.70" stroke="#6e6e6e" stroke-width="1" stroke-dasharray="3.2 2.5" fill="none"/>
<path d="M375.45 301.55L378.95 305.05M375.45 305.05L378.95 301.55" stroke="#5a0a5a" stroke-width="1.05" fill="none"/>
<path d="M381.20 289.70L383.70 293.60L378.70 293.60Z" fill="#5a0a5a"/>
<path d="M386.95 271.85L390.45 275.35M386.95 275.35L390.45 271.85" stroke="#0b3d0b" stroke-width="1.05" fill="none"/>
<path d="M393.10 276.60L395.60 280.50L390.60 280.50Z" fill="#0b3d0b"/>
<path d="M459.25 283.85L462.75 287.35M459.25 287.35L462.75 283.85" stroke="#0a900a" stroke-width="1.05" fill="none"/>
<path d="M465.40 273.40L467.90 277.30L462.90 277.30Z" fill="#0a900a"/>
<path d="M45.9 418.00H48.6" stroke="#333" stroke-width="1.1"/>
<text x="31.18" y="419.60" font-size="8.4" fill="#4d4d4d" stroke="#4d4d4d" stroke-width="0.1" textLength="8.37" lengthAdjust="spacingAndGlyphs">10</text>
<text x="39.59" y="416.80" font-size="5.4" fill="#5a5a5a" stroke="#5a5a5a" stroke-width="0.1" textLength="4.14" lengthAdjust="spacingAndGlyphs">-2</text>
<path d="M45.9 456.80H48.6" stroke="#333" stroke-width="1.1"/>
<text x="31.18" y="458.40" font-size="8.4" fill="#4d4d4d" stroke="#4d4d4d" stroke-width="0.1" textLength="8.37" lengthAdjust="spacingAndGlyphs">10</text>
<text x="39.60" y="455.60" font-size="5.4" fill="#5a5a5a" stroke="#5a5a5a" stroke-width="0.1" textLength="4.03" lengthAdjust="spacingAndGlyphs">-4</text>
<path d="M45.9 495.60H48.6" stroke="#333" stroke-width="1.1"/>
<text x="31.18" y="497.20" font-size="8.4" fill="#4d4d4d" stroke="#4d4d4d" stroke-width="0.1" textLength="8.37" lengthAdjust="spacingAndGlyphs">10</text>
<text x="39.59" y="494.40" font-size="5.4" fill="#5a5a5a" stroke="#5a5a5a" stroke-width="0.1" textLength="4.11" lengthAdjust="spacingAndGlyphs">-6</text>
<rect x="48.30" y="362.10" width="103.5" height="31.9" fill="#d9d9d9"/>
<rect x="48.30" y="394.00" width="103.5" height="131.2" fill="#ebebeb"/>
<path d="M48.30 398.60H151.80" stroke="#f4f4f4" stroke-width="0.9"/>
<path d="M48.30 437.40H151.80" stroke="#f4f4f4" stroke-width="0.9"/>
<path d="M48.30 476.20H151.80" stroke="#f4f4f4" stroke-width="0.9"/>
<path d="M48.30 515.00H151.80" stroke="#f4f4f4" stroke-width="0.9"/>
<path d="M99.90 394.00V525.20" stroke="#ffffff" stroke-width="2"/>
<text x="89.38" y="375.80" font-size="8.7" fill="#1a1a1a" stroke="#1a1a1a" stroke-width="0.1" textLength="21.61" lengthAdjust="spacingAndGlyphs">Ara-3</text>
<text x="72.02" y="385.10" font-size="8.7" fill="#1a1a1a" stroke="#1a1a1a" stroke-width="0.1" textLength="35.18" lengthAdjust="spacingAndGlyphs"><tspan font-style="italic">p</tspan>-values:</text>
<path d="M110.00 381.50L113.80 384.80M110.00 384.80L113.80 381.50" stroke="#1a1a1a" stroke-width="0.95"/>
<text x="115.92" y="385.10" font-size="8.7" fill="#1a1a1a" stroke="#1a1a1a" stroke-width="0.1" textLength="7.49" lengthAdjust="spacingAndGlyphs">1;</text>
<path d="M127.15 384.20H131.95L129.55 380.30Z" fill="#1a1a1a"/>
<text x="134.49" y="385.10" font-size="8.7" fill="#1a1a1a" stroke="#1a1a1a" stroke-width="0.1" textLength="3.74" lengthAdjust="spacingAndGlyphs">1</text>
<path d="M50.15 453.40H56.25M53.20 453.40V488.80M50.15 488.80H56.25" stroke="#8e338e" stroke-width="1.3" fill="none"/>
<path d="M54.15 441.60H60.25M57.20 441.60V477.90M54.15 477.90H60.25" stroke="#8e338e" stroke-width="1.3" fill="none"/>
<path d="M61.65 428.00H67.75M64.70 428.00V455.00M61.65 455.00H67.75" stroke="#2f742f" stroke-width="1.3" fill="none"/>
<path d="M66.05 432.10H72.15M69.10 432.10V461.30M66.05 461.30H72.15" stroke="#2f742f" stroke-width="1.3" fill="none"/>
<path d="M133.95 441.80H140.05M137.00 441.80V471.80M133.95 471.80H140.05" stroke="#ff2eff" stroke-width="1.3" fill="none"/>
<path d="M138.35 459.80H144.45M141.40 459.80V492.00M138.35 492.00H144.45" stroke="#ff2eff" stroke-width="1.3" fill="none"/>
<path d="M53.20 471.10L137.00 456.70" stroke="#6e6e6e" stroke-width="1" stroke-dasharray="3.2 2.5" fill="none"/>
<path d="M57.20 459.80L141.40 475.90" stroke="#6e6e6e" stroke-width="1" stroke-dasharray="3.2 2.5" fill="none"/>
<path d="M51.45 469.35L54.95 472.85M51.45 472.85L54.95 469.35" stroke="#5a0a5a" stroke-width="1.05" fill="none"/>
<path d="M57.20 457.50L59.70 461.40L54.70 461.40Z" fill="#5a0a5a"/>
<path d="M62.95 439.65L66.45 443.15M62.95 443.15L66.45 439.65" stroke="#0b3d0b" stroke-width="1.05" fill="none"/>
<path d="M69.10 444.40L71.60 448.30L66.60 448.30Z" fill="#0b3d0b"/>
<path d="M135.25 454.95L138.75 458.45M135.25 458.45L138.75 454.95" stroke="#e600e6" stroke-width="1.05" fill="none"/>
<path d="M141.40 473.60L143.90 477.50L138.90 477.50Z" fill="#e600e6"/>
<rect x="156.30" y="362.10" width="103.5" height="31.9" fill="#d9d9d9"/>
<rect x="156.30" y="394.00" width="103.5" height="131.2" fill="#ebebeb"/>
<path d="M156.30 398.60H259.80" stroke="#f4f4f4" stroke-width="0.9"/>
<path d="M156.30 437.40H259.80" stroke="#f4f4f4" stroke-width="0.9"/>
<path d="M156.30 476.20H259.80" stroke="#f4f4f4" stroke-width="0.9"/>
<path d="M156.30 515.00H259.80" stroke="#f4f4f4" stroke-width="0.9"/>
<path d="M207.90 394.00V525.20" stroke="#ffffff" stroke-width="2"/>
<text x="197.28" y="375.80" font-size="8.7" fill="#1a1a1a" stroke="#1a1a1a" stroke-width="0.1" textLength="21.81" lengthAdjust="spacingAndGlyphs">Ara-6</text>
<text x="173.42" y="385.10" font-size="8.7" fill="#1a1a1a" stroke="#1a1a1a" stroke-width="0.1" textLength="35.38" lengthAdjust="spacingAndGlyphs"><tspan font-style="italic">p</tspan>-values:</text>
<path d="M211.60 381.50L215.40 384.80M211.60 384.80L215.40 381.50" stroke="#1a1a1a" stroke-width="0.95"/>
<text x="217.52" y="385.10" font-size="8.7" fill="#1a1a1a" stroke="#1a1a1a" stroke-width="0.1" textLength="7.49" lengthAdjust="spacingAndGlyphs">1;</text>
<path d="M228.75 384.20H233.55L231.15 380.30Z" fill="#1a1a1a"/>
<text x="236.24" y="385.10" font-size="8.7" fill="#1a1a1a" stroke="#1a1a1a" stroke-width="0.1" textLength="17.75" lengthAdjust="spacingAndGlyphs">0.88</text>
<path d="M158.15 453.40H164.25M161.20 453.40V488.80M158.15 488.80H164.25" stroke="#8e338e" stroke-width="1.3" fill="none"/>
<path d="M162.15 441.60H168.25M165.20 441.60V477.90M162.15 477.90H168.25" stroke="#8e338e" stroke-width="1.3" fill="none"/>
<path d="M169.65 428.00H175.75M172.70 428.00V455.00M169.65 455.00H175.75" stroke="#2f742f" stroke-width="1.3" fill="none"/>
<path d="M174.05 432.10H180.15M177.10 432.10V461.30M174.05 461.30H180.15" stroke="#2f742f" stroke-width="1.3" fill="none"/>
<path d="M241.95 455.00H248.05M245.00 455.00V492.70M241.95 492.70H248.05" stroke="#ff2eff" stroke-width="1.3" fill="none"/>
<path d="M246.35 464.60H252.45M249.40 464.60V505.20M246.35 505.20H252.45" stroke="#ff2eff" stroke-width="1.3" fill="none"/>
<path d="M161.20 471.10L245.00 473.50" stroke="#6e6e6e" stroke-width="1" stroke-dasharray="3.2 2.5" fill="none"/>
<path d="M165.20 459.80L249.40 484.80" stroke="#6e6e6e" stroke-width="1" stroke-dasharray="3.2 2.5" fill="none"/>
<path d="M159.45 469.35L162.95 472.85M159.45 472.85L162.95 469.35" stroke="#5a0a5a" stroke-width="1.05" fill="none"/>
<path d="M165.20 457.50L167.70 461.40L162.70 461.40Z" fill="#5a0a5a"/>
<path d="M170.95 439.65L174.45 443.15M170.95 443.15L174.45 439.65" stroke="#0b3d0b" stroke-width="1.05" fill="none"/>
<path d="M177.10 444.40L179.60 448.30L174.60 448.30Z" fill="#0b3d0b"/>
<path d="M243.25 471.75L246.75 475.25M243.25 475.25L246.75 471.75" stroke="#e600e6" stroke-width="1.05" fill="none"/>
<path d="M249.40 482.50L251.90 486.40L246.90 486.40Z" fill="#e600e6"/>
<rect x="264.30" y="362.10" width="103.5" height="31.9" fill="#d9d9d9"/>
<rect x="264.30" y="394.00" width="103.5" height="131.2" fill="#ebebeb"/>
<path d="M264.30 398.60H367.80" stroke="#f4f4f4" stroke-width="0.9"/>
<path d="M264.30 437.40H367.80" stroke="#f4f4f4" stroke-width="0.9"/>
<path d="M264.30 476.20H367.80" stroke="#f4f4f4" stroke-width="0.9"/>
<path d="M264.30 515.00H367.80" stroke="#f4f4f4" stroke-width="0.9"/>
<path d="M315.90 394.00V525.20" stroke="#ffffff" stroke-width="2"/>
<text x="303.68" y="375.80" font-size="8.7" fill="#1a1a1a" stroke="#1a1a1a" stroke-width="0.1" textLength="25.23" lengthAdjust="spacingAndGlyphs">Ara+3</text>
<text x="284.21" y="385.10" font-size="8.7" fill="#1a1a1a" stroke="#1a1a1a" stroke-width="0.1" textLength="34.57" lengthAdjust="spacingAndGlyphs"><tspan font-style="italic">p</tspan>-values:</text>
<path d="M321.60 381.50L325.40 384.80M321.60 384.80L325.40 381.50" stroke="#1a1a1a" stroke-width="0.95"/>
<text x="327.52" y="385.10" font-size="8.7" fill="#1a1a1a" stroke="#1a1a1a" stroke-width="0.1" textLength="7.49" lengthAdjust="spacingAndGlyphs">1;</text>
<path d="M338.75 384.20H343.55L341.15 380.30Z" fill="#1a1a1a"/>
<text x="346.09" y="385.10" font-size="8.7" fill="#1a1a1a" stroke="#1a1a1a" stroke-width="0.1" textLength="3.74" lengthAdjust="spacingAndGlyphs">1</text>
<path d="M266.15 453.40H272.25M269.20 453.40V488.80M266.15 488.80H272.25" stroke="#8e338e" stroke-width="1.3" fill="none"/>
<path d="M270.15 441.60H276.25M273.20 441.60V477.90M270.15 477.90H276.25" stroke="#8e338e" stroke-width="1.3" fill="none"/>
<path d="M277.65 428.00H283.75M280.70 428.00V455.00M277.65 455.00H283.75" stroke="#2f742f" stroke-width="1.3" fill="none"/>
<path d="M282.05 432.10H288.15M285.10 432.10V461.30M282.05 461.30H288.15" stroke="#2f742f" stroke-width="1.3" fill="none"/>
<path d="M349.95 463.90H356.05M353.00 463.90V498.70M349.95 498.70H356.05" stroke="#2ba82b" stroke-width="1.3" fill="none"/>
<path d="M354.35 454.70H360.45M357.40 454.70V490.80M354.35 490.80H360.45" stroke="#2ba82b" stroke-width="1.3" fill="none"/>
<path d="M280.70 441.40L353.00 481.40" stroke="#6e6e6e" stroke-width="1" stroke-dasharray="3.2 2.5" fill="none"/>
<path d="M285.10 446.70L357.40 472.30" stroke="#6e6e6e" stroke-width="1" stroke-dasharray="3.2 2.5" fill="none"/>
<path d="M267.45 469.35L270.95 472.85M267.45 472.85L270.95 469.35" stroke="#5a0a5a" stroke-width="1.05" fill="none"/>
<path d="M273.20 457.50L275.70 461.40L270.70 461.40Z" fill="#5a0a5a"/>
<path d="M278.95 439.65L282.45 443.15M278.95 443.15L282.45 439.65" stroke="#0b3d0b" stroke-width="1.05" fill="none"/>
<path d="M285.10 444.40L287.60 448.30L282.60 448.30Z" fill="#0b3d0b"/>
<path d="M351.25 479.65L354.75 483.15M351.25 483.15L354.75 479.65" stroke="#0a900a" stroke-width="1.05" fill="none"/>
<path d="M357.40 470.00L359.90 473.90L354.90 473.90Z" fill="#0a900a"/>
<rect x="372.30" y="362.10" width="103.5" height="31.9" fill="#d9d9d9"/>
<rect x="372.30" y="394.00" width="103.5" height="131.2" fill="#ebebeb"/>
<path d="M372.30 398.60H475.80" stroke="#f4f4f4" stroke-width="0.9"/>
<path d="M372.30 437.40H475.80" stroke="#f4f4f4" stroke-width="0.9"/>
<path d="M372.30 476.20H475.80" stroke="#f4f4f4" stroke-width="0.9"/>
<path d="M372.30 515.00H475.80" stroke="#f4f4f4" stroke-width="0.9"/>
<path d="M423.90 394.00V525.20" stroke="#ffffff" stroke-width="2"/>
<text x="411.68" y="375.80" font-size="8.7" fill="#1a1a1a" stroke="#1a1a1a" stroke-width="0.1" textLength="25.23" lengthAdjust="spacingAndGlyphs">Ara+6</text>
<text x="392.21" y="385.10" font-size="8.7" fill="#1a1a1a" stroke="#1a1a1a" stroke-width="0.1" textLength="34.57" lengthAdjust="spacingAndGlyphs"><tspan font-style="italic">p</tspan>-values:</text>
<path d="M429.60 381.50L433.40 384.80M429.60 384.80L433.40 381.50" stroke="#1a1a1a" stroke-width="0.95"/>
<text x="435.52" y="385.10" font-size="8.7" fill="#1a1a1a" stroke="#1a1a1a" stroke-width="0.1" textLength="7.49" lengthAdjust="spacingAndGlyphs">1;</text>
<path d="M446.75 384.20H451.55L449.15 380.30Z" fill="#1a1a1a"/>
<text x="454.09" y="385.10" font-size="8.7" fill="#1a1a1a" stroke="#1a1a1a" stroke-width="0.1" textLength="3.74" lengthAdjust="spacingAndGlyphs">1</text>
<path d="M374.15 453.40H380.25M377.20 453.40V488.80M374.15 488.80H380.25" stroke="#8e338e" stroke-width="1.3" fill="none"/>
<path d="M378.15 441.60H384.25M381.20 441.60V477.90M378.15 477.90H384.25" stroke="#8e338e" stroke-width="1.3" fill="none"/>
<path d="M385.65 428.00H391.75M388.70 428.00V455.00M385.65 455.00H391.75" stroke="#2f742f" stroke-width="1.3" fill="none"/>
<path d="M390.05 432.10H396.15M393.10 432.10V461.30M390.05 461.30H396.15" stroke="#2f742f" stroke-width="1.3" fill="none"/>
<path d="M457.95 440.60H464.05M461.00 440.60V472.30M457.95 472.30H464.05" stroke="#2ba82b" stroke-width="1.3" fill="none"/>
<path d="M462.35 435.00H468.45M465.40 435.00V468.00M462.35 468.00H468.45" stroke="#2ba82b" stroke-width="1.3" fill="none"/>
<path d="M388.70 441.40L461.00 456.20" stroke="#6e6e6e" stroke-width="1" stroke-dasharray="3.2 2.5" fill="none"/>
<path d="M393.10 446.70L465.40 451.10" stroke="#6e6e6e" stroke-width="1" stroke-dasharray="3.2 2.5" fill="none"/>
<path d="M375.45 469.35L378.95 472.85M375.45 472.85L378.95 469.35" stroke="#5a0a5a" stroke-width="1.05" fill="none"/>
<path d="M381.20 457.50L383.70 461.40L378.70 461.40Z" fill="#5a0a5a"/>
<path d="M386.95 439.65L390.45 443.15M386.95 443.15L390.45 439.65" stroke="#0b3d0b" stroke-width="1.05" fill="none"/>
<path d="M393.10 444.40L395.60 448.30L390.60 448.30Z" fill="#0b3d0b"/>
<path d="M459.25 454.45L462.75 457.95M459.25 457.95L462.75 454.45" stroke="#0a900a" stroke-width="1.05" fill="none"/>
<path d="M465.40 448.80L467.90 452.70L462.90 452.70Z" fill="#0a900a"/>
<path d="M60.90 525.20V527.90" stroke="#333" stroke-width="1.1"/>
<path d="M139.25 525.20V527.90" stroke="#333" stroke-width="1.1"/>
<text x="58.46" y="534.80" font-size="8.4" fill="#4d4d4d" stroke="#4d4d4d" stroke-width="0.1" textLength="4.77" lengthAdjust="spacingAndGlyphs">0</text>
<text x="126.14" y="534.80" font-size="8.4" fill="#4d4d4d" stroke="#4d4d4d" stroke-width="0.1" textLength="23.41" lengthAdjust="spacingAndGlyphs">50,000</text>
<path d="M168.90 525.20V527.90" stroke="#333" stroke-width="1.1"/>
<path d="M247.25 525.20V527.90" stroke="#333" stroke-width="1.1"/>
<text x="166.46" y="534.80" font-size="8.4" fill="#4d4d4d" stroke="#4d4d4d" stroke-width="0.1" textLength="4.77" lengthAdjust="spacingAndGlyphs">0</text>
<text x="234.14" y="534.80" font-size="8.4" fill="#4d4d4d" stroke="#4d4d4d" stroke-width="0.1" textLength="23.41" lengthAdjust="spacingAndGlyphs">50,000</text>
<path d="M276.90 525.20V527.90" stroke="#333" stroke-width="1.1"/>
<path d="M355.25 525.20V527.90" stroke="#333" stroke-width="1.1"/>
<text x="274.46" y="534.80" font-size="8.4" fill="#4d4d4d" stroke="#4d4d4d" stroke-width="0.1" textLength="4.77" lengthAdjust="spacingAndGlyphs">0</text>
<text x="342.14" y="534.80" font-size="8.4" fill="#4d4d4d" stroke="#4d4d4d" stroke-width="0.1" textLength="23.41" lengthAdjust="spacingAndGlyphs">50,000</text>
<path d="M384.90 525.20V527.90" stroke="#333" stroke-width="1.1"/>
<path d="M463.25 525.20V527.90" stroke="#333" stroke-width="1.1"/>
<text x="382.46" y="534.80" font-size="8.4" fill="#4d4d4d" stroke="#4d4d4d" stroke-width="0.1" textLength="4.77" lengthAdjust="spacingAndGlyphs">0</text>
<text x="451.54" y="534.80" font-size="8.4" fill="#4d4d4d" stroke="#4d4d4d" stroke-width="0.1" textLength="23.41" lengthAdjust="spacingAndGlyphs">50,000</text>
</svg></body></html>
